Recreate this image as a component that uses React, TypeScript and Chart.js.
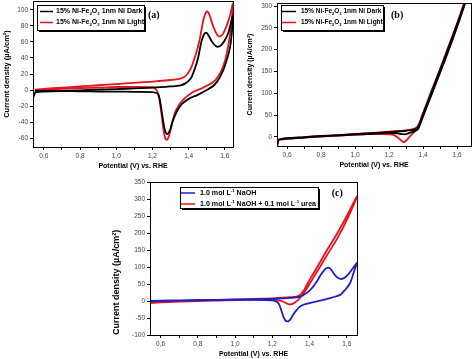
import React, { useEffect, useRef } from 'react';
import { Chart, registerables } from 'chart.js';
Chart.register(...registerables);

// ---------- Panel (a) ----------
const aDarkV = [0.545, 0.55, 0.56, 0.6, 0.7, 0.8, 0.9, 1.0, 1.1, 1.2, 1.3, 1.35, 1.38, 1.41, 1.43, 1.45, 1.47, 1.48, 1.49, 1.5, 1.51, 1.53, 1.55, 1.565, 1.58, 1.6, 1.62, 1.645,
  1.63, 1.6, 1.57, 1.54, 1.5, 1.45, 1.4, 1.36, 1.33, 1.31, 1.3, 1.29, 1.28, 1.27, 1.26, 1.25, 1.24, 1.23, 1.2, 1.1, 1.0, 0.9, 0.8, 0.7, 0.6, 0.55];
const aDarkJ = [-8, -4, -2.5, -2, -1.2, -0.3, 0.5, 1.2, 2, 3, 4.5, 5.5, 8, 14, 24, 38, 60, 67, 71, 71, 68, 60, 55, 54, 56, 62, 72, 93,
  55, 30, 15, 6, 0, -6, -11, -18, -29, -40, -48, -53, -55, -51, -40, -25, -11, -4.5, -2.5, -2.2, -2, -1.8, -1.5, -1.3, -1, -1];
const aLightV = [0.55, 0.6, 0.7, 0.8, 0.9, 1.0, 1.1, 1.2, 1.3, 1.35, 1.38, 1.41, 1.44, 1.46, 1.48, 1.49, 1.5, 1.51, 1.52, 1.54, 1.56, 1.575, 1.59, 1.61, 1.625, 1.645,
  1.63, 1.61, 1.59, 1.56, 1.53, 1.47, 1.42, 1.37, 1.33, 1.31, 1.3, 1.29, 1.28, 1.27, 1.26, 1.25, 1.24, 1.23, 1.22, 1.2, 1.1, 1.0, 0.9, 0.8, 0.7, 0.6, 0.55];
const aLightJ = [0.5, 1.5, 3, 4.5, 6, 7.5, 9, 10.5, 12.5, 14, 17, 26, 45, 62, 86, 94, 98, 96, 90, 77, 68, 67, 70, 80, 90, 108,
  72, 45, 29, 16, 9, 2, -3, -12, -25, -40, -50, -58, -62, -60, -48, -30, -14, -4, 1, 3.5, 4, 3.8, 3, 2.5, 1.5, 0.5, -0.5];

// ---------- Panel (b) ----------
const bDarkV = [0.545, 0.55, 0.57, 0.6, 0.7, 0.8, 0.9, 1.0, 1.1, 1.2, 1.3, 1.35, 1.37, 1.4, 1.45, 1.5, 1.55, 1.6, 1.64, 1.66,
  1.64, 1.6, 1.55, 1.5, 1.45, 1.4, 1.37, 1.35, 1.32, 1.3, 1.28, 1.25, 1.2, 1.1, 1.0, 0.9, 0.8, 0.7, 0.6, 0.55];
const bDarkJ = [-16, -7, -4.5, -3, -0.5, 2, 4, 6, 8.5, 11, 14, 17, 22, 52, 103, 153, 205, 258, 302, 322,
  298, 252, 198, 147, 97, 47, 18, 13, 9, 6, 6, 8, 9, 7, 5, 3, 1, -1.5, -4, -6];
const bLightV = [0.545, 0.55, 0.57, 0.6, 0.7, 0.8, 0.9, 1.0, 1.1, 1.2, 1.3, 1.35, 1.37, 1.4, 1.45, 1.5, 1.55, 1.6, 1.64, 1.66,
  1.64, 1.6, 1.55, 1.5, 1.45, 1.4, 1.37, 1.35, 1.32, 1.3, 1.285, 1.27, 1.25, 1.23, 1.2, 1.1, 1.0, 0.9, 0.8, 0.7, 0.6, 0.55];
const bLightJ = [-20, -9, -5, -3.5, -1, 1.5, 4, 6.5, 9, 12, 15, 19, 25, 55, 106, 156, 208, 260, 305, 325,
  300, 254, 200, 149, 99, 49, 19, 12, 0, -9, -12, -8, -1, 4, 6, 7, 5, 3, 0.5, -2, -4.5, -7];

// ---------- Panel (c) ----------
const cNaohV = [0.545, 0.6, 0.7, 0.8, 0.9, 1.0, 1.1, 1.2, 1.3, 1.35, 1.38, 1.41, 1.44, 1.46, 1.48, 1.49, 1.5, 1.51, 1.52, 1.54, 1.56, 1.575, 1.59, 1.61, 1.63, 1.655,
  1.64, 1.618, 1.59, 1.564, 1.52, 1.48, 1.44, 1.4, 1.367, 1.345, 1.33, 1.31, 1.3, 1.29, 1.28, 1.27, 1.26, 1.25, 1.24, 1.23, 1.22, 1.2, 1.1, 1.0, 0.9, 0.8, 0.7, 0.6, 0.545];
const cNaohJ = [0, 1, 2, 3, 3.5, 4.5, 5.5, 6.5, 9, 13, 22, 36, 58, 77, 91, 96, 98, 96, 89, 74, 66, 65, 69, 80, 94, 112,
  88, 53, 32, 18, 10, 4, -1, -6, -11, -18, -27, -42, -52, -58, -60, -57, -47, -30, -14, -5, -1, 2, 3.5, 3.5, 3, 2, 1, 0, -1];
const cUreaV = [0.545, 0.6, 0.7, 0.8, 0.9, 1.0, 1.1, 1.2, 1.3, 1.33, 1.35, 1.37, 1.4, 1.45, 1.5, 1.55, 1.6, 1.655,
  1.6, 1.55, 1.5, 1.45, 1.42, 1.4, 1.38, 1.36, 1.34, 1.32, 1.3, 1.285, 1.27, 1.25, 1.22, 1.2, 1.1, 1.0, 0.9, 0.8, 0.7, 0.6, 0.545];
const cUreaJ = [-6, -4, -2, 0, 2, 4, 6, 8, 11, 13, 18, 32, 62, 108, 155, 200, 250, 308,
  238, 185, 140, 95, 68, 50, 32, 16, 4, -5, -10, -9, -5, 0, 3, 4, 4, 3, 1.5, 0, -1.5, -3, -4];

// ---------- Labels ----------
const labelDark = [['15% Ni-Fe', ''], ['2', 'sub'], ['O', ''], ['3', 'sub'], [' 1nm Ni Dark', '']];
const labelLight = [['15% Ni-Fe', ''], ['2', 'sub'], ['O', ''], ['3', 'sub'], [' 1nm Ni Light', '']];
const labelNaoh = [['1.0 mol L', ''], ['-1', 'sup'], [' NaOH', '']];
const labelUrea = [['1.0 mol L', ''], ['-1', 'sup'], [' NaOH + 0.1 mol L', ''], ['-1', 'sup'], [' urea', '']];
const xTitle = 'Potential (V) vs. RHE';
const yTitle = 'Current density (µA/cm²)';

const FONT = '"Liberation Sans", Arial, sans-serif';

function drawRich(ctx: CanvasRenderingContext2D, segs: string[][], x: number, y: number, size: number) {
  let cx = x;
  ctx.textBaseline = 'middle';
  ctx.fillStyle = '#000';
  for (const [t, k] of segs) {
    const s = k ? size * 0.62 : size;
    ctx.font = `bold ${s}px ${FONT}`;
    const dy = k === 'sub' ? size * 0.3 : k === 'sup' ? -size * 0.35 : 0;
    ctx.fillText(t, cx, y + dy);
    cx += ctx.measureText(t).width;
  }
}

const panelPlugin = {
  id: 'panel',
  afterDatasetsDraw(chart: any, _args: any, o: any) {
    const ctx: CanvasRenderingContext2D = chart.ctx;
    const a = chart.chartArea;
    ctx.save();
    ctx.strokeStyle = '#000';
    ctx.lineWidth = 1;
    ctx.strokeRect(Math.round(a.left) + 0.5, Math.round(a.top) + 0.5, Math.round(a.right - a.left), Math.round(a.bottom - a.top));
    const L = o.legend;
    if (L) {
      ctx.fillStyle = '#000';
      ctx.fillRect(L.x + 2, L.y + 2, L.w, L.h);
      ctx.fillStyle = '#fff';
      ctx.fillRect(L.x, L.y, L.w, L.h);
      ctx.strokeStyle = '#000';
      ctx.lineWidth = 1;
      ctx.strokeRect(L.x + 0.5, L.y + 0.5, L.w, L.h);
      L.items.forEach((segs: string[][], i: number) => {
        const y = L.y + L.rows[i];
        ctx.strokeStyle = chart.data.datasets[i].borderColor;
        ctx.lineWidth = 1.5;
        ctx.beginPath();
        ctx.moveTo(L.lx0, y);
        ctx.lineTo(L.lx1, y);
        ctx.stroke();
        drawRich(ctx, segs, L.tx, y, L.size);
      });
    }
    const T = o.tag;
    if (T) {
      ctx.font = `bold ${T.size}px "Liberation Serif", serif`;
      ctx.fillStyle = '#000';
      ctx.textBaseline = 'middle';
      ctx.fillText(T.text, T.x, T.y);
    }
    ctx.restore();
  },
};

function series(v: number[], j: number[], color: string, label: string) {
  return {
    label,
    data: v.map((x, i) => ({ x, y: j[i] })),
    borderColor: color,
    backgroundColor: color,
    borderWidth: 1.8,
    showLine: true,
    pointRadius: 0,
    tension: 0.3,
    fill: false,
  };
}

function xTick(value: number) {
  const k = Math.round(value * 10);
  return k % 2 === 0 ? (k / 10).toFixed(1).replace('.', ',') : '';
}

function makeConfig(p: any) {
  return {
    type: 'scatter',
    data: { datasets: p.datasets },
    options: {
      animation: false,
      responsive: false,
      devicePixelRatio: 1,
      layout: { padding: p.padding },
      plugins: {
        legend: { display: false },
        tooltip: { enabled: false },
        panel: { legend: p.legend, tag: p.tag },
      },
      scales: {
        x: {
          type: 'linear',
          min: p.xmin,
          max: p.xmax,
          afterFit: (s: any) => { s.height = p.xh; s.paddingLeft = 0; s.paddingRight = 0; },
          grid: { drawOnChartArea: false, tickLength: 3, tickColor: '#000' },
          border: { display: true, color: '#000', width: 1 },
          ticks: { stepSize: 0.1, includeBounds: false, autoSkip: false, maxRotation: 0, padding: 2, color: '#444', font: { family: FONT, size: 6.5 }, callback: xTick },
          title: { display: true, text: xTitle, color: '#000', font: { family: FONT, size: 7, weight: 'bold' }, padding: { top: 0, bottom: p.xtpad } },
        },
        y: {
          type: 'linear',
          min: p.ymin,
          max: p.ymax,
          afterFit: (s: any) => { s.width = p.yw; s.paddingTop = 0; s.paddingBottom = 0; },
          grid: { drawOnChartArea: false, tickLength: 3, tickColor: '#000' },
          border: { display: true, color: '#000', width: 1 },
          ticks: { stepSize: p.ystep, includeBounds: false, autoSkip: false, padding: 2, color: '#444', font: { family: FONT, size: 6.5 } },
          title: { display: true, text: yTitle, align: p.yalign || 'center', color: '#000', font: { family: FONT, size: p.ytsize, weight: 'bold' }, padding: { top: p.ytpad, bottom: 0 } },
        },
      },
    },
    plugins: [panelPlugin],
  };
}

const panels = [
  {
    key: 'a', left: 0, top: 0, w: 237, h: 175,
    padding: { left: 0, right: 4, top: 1, bottom: 0 }, yw: 33, xh: 28, xtpad: 4.8, ytpad: 2.5, ytsize: 7.5,
    xmin: 0.54, xmax: 1.645, ymin: -71, ymax: 111, ystep: 20,
    datasets: [series(aDarkV, aDarkJ, '#000000', '15% Ni-Fe₂O₃ 1nm Ni Dark'), series(aLightV, aLightJ, '#e8131b', '15% Ni-Fe₂O₃ 1nm Ni Light')],
    legend: { x: 37, y: 5, w: 107, h: 25, rows: [6.5, 17.5], lx0: 40, lx1: 53, tx: 56, size: 7, items: [labelDark, labelLight] },
    tag: { text: '(a)', x: 148, y: 15, size: 10 },
  },
  {
    key: 'b', left: 240, top: 0, w: 234, h: 175,
    padding: { left: 0, right: 3, top: 3, bottom: 0 }, yw: 37, xh: 29, xtpad: 5.8, ytpad: 5.5, ytsize: 7,
    xmin: 0.541, xmax: 1.682, ymin: -21, ymax: 307, ystep: 50,
    datasets: [series(bDarkV, bDarkJ, '#000000', '15% Ni-Fe₂O₃ 1nm Ni Dark'), series(bLightV, bLightJ, '#e8131b', '15% Ni-Fe₂O₃ 1nm Ni Light')],
    legend: { x: 41, y: 5, w: 102, h: 25, rows: [6.5, 17.5], lx0: 42, lx1: 56, tx: 61, size: 6.5, items: [labelDark, labelLight] },
    tag: { text: '(b)', x: 151, y: 15, size: 10 },
  },
  {
    key: 'c', left: 110, top: 176, w: 255, h: 183,
    padding: { left: 0, right: 8, top: 6, bottom: 0 }, yw: 40, xh: 24, xtpad: 0.8, ytpad: 1.6, ytsize: 9, yalign: 'start',
    xmin: 0.543, xmax: 1.655, ymin: -100, ymax: 350, ystep: 50,
    datasets: [series(cNaohV, cNaohJ, '#1f1fc8', '1.0 mol L⁻¹ NaOH'), series(cUreaV, cUreaJ, '#e8131b', '1.0 mol L⁻¹ NaOH + 0.1 mol L⁻¹ urea')],
    legend: { x: 70, y: 11, w: 138, h: 21, rows: [6, 17], lx0: 71, lx1: 85, tx: 90, size: 7.1, items: [labelNaoh, labelUrea] },
    tag: { text: '(c)', x: 221.7, y: 17, size: 10 },
  },
];

function Panel({ p }: { p: any }) {
  const ref = useRef<HTMLCanvasElement>(null);
  useEffect(() => {
    const chart = new Chart(ref.current as HTMLCanvasElement, makeConfig(p) as any);
    return () => chart.destroy();
  }, []);
  return (
    <canvas
      ref={ref}
      width={p.w}
      height={p.h}
      style={{ position: 'absolute', left: p.left, top: p.top, width: p.w, height: p.h }}
    />
  );
}

export default function App() {
  return (
    <div style={{ position: 'fixed', left: 0, top: 0, width: 474, height: 359, background: '#fff', overflow: 'hidden' }}>
      {panels.map((p) => <Panel key={p.key} p={p} />)}
    </div>
  );
}
